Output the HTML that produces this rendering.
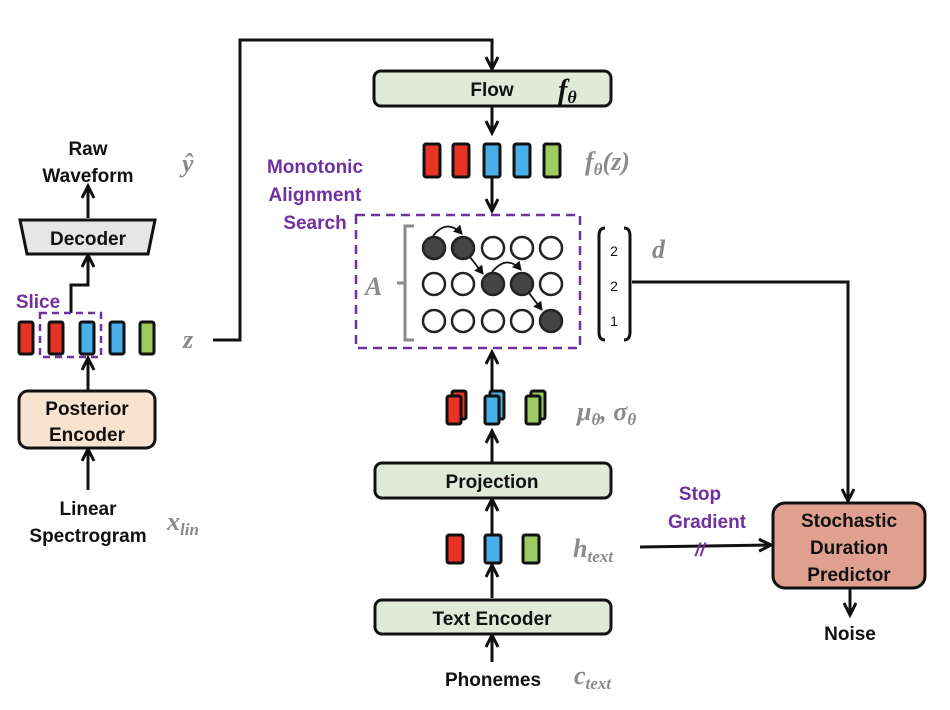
<!DOCTYPE html>
<html><head><meta charset="utf-8"><style>
html,body{margin:0;padding:0;background:#fff;}
svg{display:block;}
.t{font-family:"Liberation Sans","DejaVu Sans",sans-serif;font-weight:bold;font-size:19px;fill:#111;text-anchor:middle;}
.p{fill:#7030a0;}
.m{font-family:"Liberation Serif","DejaVu Serif",serif;font-weight:bold;font-style:italic;fill:#8a8a8a;font-size:26px;}
.b{stroke:#111;stroke-width:3;}
</style></head><body>
<svg width="950" height="710" viewBox="0 0 950 710" xmlns="http://www.w3.org/2000/svg">
<defs>
<marker id="ar" markerWidth="16" markerHeight="16" refX="13" refY="7" orient="auto" markerUnits="userSpaceOnUse">
<path d="M1,1 L13,7 L1,13" fill="none" stroke="#111" stroke-width="3"/></marker>
<marker id="at" markerWidth="10" markerHeight="10" refX="8" refY="5" orient="auto" markerUnits="userSpaceOnUse">
<path d="M0,0 L9,5 L0,10 z" fill="#111"/></marker>
</defs>
<g fill="none" stroke="#111" stroke-width="3">
<path d="M213,340 L240,340 L240,40 L492,40 L492,69" marker-end="url(#ar)"/>
<path d="M492,106 L492,133" marker-end="url(#ar)"/>
<path d="M492,178 L492,211" marker-end="url(#ar)"/>
<path d="M492,398 L492,352" marker-end="url(#ar)"/>
<path d="M492,462 L492,431" marker-end="url(#ar)"/>
<path d="M492,534 L492,499" marker-end="url(#ar)"/>
<path d="M492,598 L492,565" marker-end="url(#ar)"/>
<path d="M492,662 L492,635" marker-end="url(#ar)"/>
<path d="M632,282 L848,282 L848,501" marker-end="url(#ar)"/>
<path d="M640,547 L771,545" marker-end="url(#ar)"/>
<path d="M850,589 L850,615" marker-end="url(#ar)"/>
<path d="M88,218 L88,186" marker-end="url(#ar)"/>
<path d="M71,313 L71,285 L88,285 L88,255" marker-end="url(#ar)"/>
<path d="M88,390 L88,358" marker-end="url(#ar)"/>
<path d="M88,490 L88,449" marker-end="url(#ar)"/>
</g>
<rect x="374" y="71" width="237" height="35" rx="7" fill="#dfead8" class="b"/>
<text x="492" y="96" class="t">Flow</text>
<text x="558" y="99" class="m" style="fill:#111;font-size:28px">f<tspan font-size="18" dy="4">θ</tspan></text>
<rect x="375" y="463" width="236" height="35" rx="7" fill="#dfead8" class="b"/>
<text x="492" y="488" class="t">Projection</text>
<rect x="375" y="600" width="236" height="34" rx="7" fill="#dfead8" class="b"/>
<text x="492" y="625" class="t">Text Encoder</text>
<rect x="773" y="503" width="152" height="85" rx="12" fill="#e0a090" class="b"/>
<text x="849" y="527" class="t">Stochastic</text>
<text x="849" y="554" class="t">Duration</text>
<text x="849" y="581" class="t">Predictor</text>
<text x="850" y="640" class="t">Noise</text>
<rect x="19" y="391" width="136" height="57" rx="9" fill="#f8e3d0" class="b"/>
<text x="87" y="415" class="t">Posterior</text>
<text x="87" y="441" class="t">Encoder</text>
<path d="M20,220 L155,220 L148,254 L27,254 Z" fill="#e6e6e6" class="b"/>
<text x="88" y="245" class="t">Decoder</text>
<text x="88" y="155" class="t">Raw</text>
<text x="88" y="182" class="t">Waveform</text>
<text x="88" y="515" class="t">Linear</text>
<text x="88" y="542" class="t">Spectrogram</text>
<text x="493" y="686" class="t">Phonemes</text>
<text x="38" y="308" class="t p">Slice</text>
<text x="315" y="173" class="t p">Monotonic</text>
<text x="315" y="201" class="t p">Alignment</text>
<text x="315" y="229" class="t p">Search</text>
<text x="700" y="500" class="t p">Stop</text>
<text x="707" y="528" class="t p">Gradient</text>
<text x="700" y="556" class="t p" style="font-style:italic;font-size:18px">//</text>
<rect x="40" y="313" width="61" height="44" fill="none" stroke="#7030a0" stroke-width="2.5" stroke-dasharray="7,5"/>
<rect x="356" y="215" width="224" height="133" fill="none" stroke="#7030a0" stroke-width="2.5" stroke-dasharray="9,6"/>
<g stroke="#111" stroke-width="3">
<rect x="19" y="322" width="14" height="32" rx="2" fill="#e83224"/>
<rect x="49" y="322" width="14" height="32" rx="2" fill="#e83224"/>
<rect x="80" y="322" width="14" height="32" rx="2" fill="#4aaee8"/>
<rect x="110" y="322" width="14" height="32" rx="2" fill="#4aaee8"/>
<rect x="140" y="322" width="14" height="32" rx="2" fill="#9dcb61"/>
<rect x="424" y="144" width="16" height="33" rx="2" fill="#e83224"/>
<rect x="453" y="144" width="16" height="33" rx="2" fill="#e83224"/>
<rect x="484" y="144" width="16" height="33" rx="2" fill="#4aaee8"/>
<rect x="514" y="144" width="16" height="33" rx="2" fill="#4aaee8"/>
<rect x="544" y="144" width="16" height="33" rx="2" fill="#9dcb61"/>
<rect x="447" y="535" width="16" height="28" rx="2" fill="#e83224"/>
<rect x="485" y="535" width="16" height="28" rx="2" fill="#4aaee8"/>
<rect x="523" y="535" width="16" height="28" rx="2" fill="#9dcb61"/>
<rect x="452" y="391" width="14" height="28" rx="2" fill="#e83224"/>
<rect x="447" y="396" width="14" height="28" rx="2" fill="#e83224"/>
<rect x="490" y="391" width="14" height="28" rx="2" fill="#4aaee8"/>
<rect x="485" y="396" width="14" height="28" rx="2" fill="#4aaee8"/>
<rect x="531" y="391" width="14" height="28" rx="2" fill="#9dcb61"/>
<rect x="526" y="396" width="14" height="28" rx="2" fill="#9dcb61"/>
</g>
<text x="182" y="172" class="m">ŷ</text>
<text x="183" y="348" class="m">z</text>
<text x="167" y="530" class="m">x<tspan font-size="17" dy="5">lin</tspan></text>
<text x="585" y="170" class="m">f<tspan font-size="17" dy="5">θ</tspan><tspan dy="-5">(z)</tspan></text>
<text x="577" y="420" class="m">μ<tspan font-size="17" dy="5">θ</tspan><tspan dy="-5">, σ</tspan><tspan font-size="17" dy="5">θ</tspan></text>
<text x="573" y="557" class="m">h<tspan font-size="17" dy="5">text</tspan></text>
<text x="574" y="684" class="m">c<tspan font-size="17" dy="5">text</tspan></text>
<text x="652" y="258" class="m">d</text>
<text x="365" y="295" class="m">A</text>
<path d="M414,226 L405,226 L405,340 L414,340 M405,283 L397,283" fill="none" stroke="#8a8a8a" stroke-width="3"/>
<path d="M605,228 Q599,228 599,236 L599,332 Q599,340 605,340 M624,228 Q630,228 630,236 L630,332 Q630,340 624,340" fill="none" stroke="#111" stroke-width="3"/>
<g font-family="Liberation Sans,sans-serif" font-size="14" text-anchor="middle" fill="#111">
<text x="614" y="256">2</text><text x="614" y="291">2</text><text x="614" y="326">1</text></g>
<g stroke="#222" stroke-width="2.5" fill="#fff">
<circle cx="434" cy="248" r="11" fill="#444"/><circle cx="463" cy="248" r="11" fill="#444"/><circle cx="493" cy="248" r="11"/><circle cx="522" cy="248" r="11"/><circle cx="551" cy="248" r="11"/>
<circle cx="434" cy="284" r="11"/><circle cx="463" cy="284" r="11"/><circle cx="493" cy="284" r="11" fill="#444"/><circle cx="522" cy="284" r="11" fill="#444"/><circle cx="551" cy="284" r="11"/>
<circle cx="434" cy="321" r="11"/><circle cx="463" cy="321" r="11"/><circle cx="493" cy="321" r="11"/><circle cx="522" cy="321" r="11"/><circle cx="551" cy="321" r="11" fill="#444"/>
</g>
<g fill="none" stroke="#111" stroke-width="1.8">
<path d="M433,236 Q447,218 462,234" marker-end="url(#at)"/>
<path d="M470,257 L483,274" marker-end="url(#at)"/>
<path d="M492,272 Q507,254 521,270" marker-end="url(#at)"/>
<path d="M529,293 L542,310" marker-end="url(#at)"/>
</g>
</svg>
</body></html>
